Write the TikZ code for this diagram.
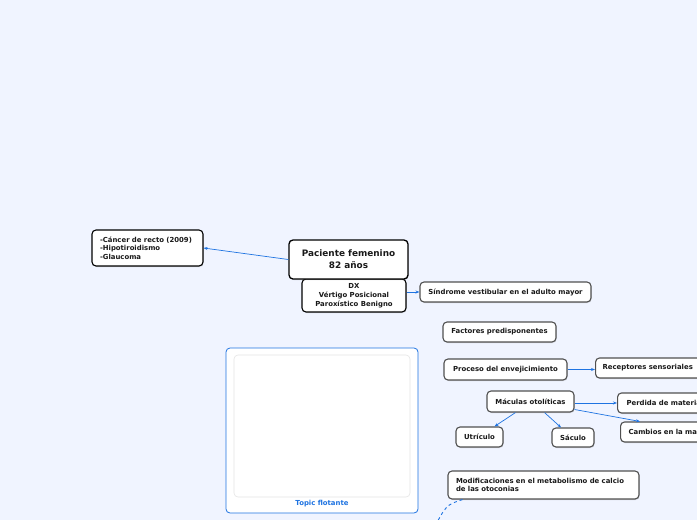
\documentclass[tikz,border=0pt]{standalone}
\usepackage{fontspec}
\setmainfont{DejaVu Sans}
\usetikzlibrary{arrows.meta,shadows}
\definecolor{bgblue}{RGB}{240,244,255}
\definecolor{linkblue}{RGB}{30,115,225}
\definecolor{boxgrey}{RGB}{80,80,80}
\begin{document}
\begin{tikzpicture}[x=1pt,y=-1pt,
  every node/.style={font=\fontsize{6.9}{8.6}\selectfont\bfseries,text=black!90},
  topic/.style={draw=boxgrey,fill=white,line width=1.1pt,rounded corners=4pt,inner sep=0pt,drop shadow={shadow xshift=0.6pt,shadow yshift=-1pt,opacity=0.3}},
  link/.style={-{Stealth[length=4pt,width=3pt]},linkblue,line width=0.7pt}]
  \clip (0,0) rectangle (697,520);
  \fill[bgblue] (0,0) rectangle (697,520);
  % central topic
  \node[topic,draw=black,minimum width=104,minimum height=33,align=center,font=\fontsize{6.9}{9}\selectfont\bfseries] (dx) at (354,295.5) {\\[-4pt]DX\\V\'ertigo Posicional\\Parox\'istico Benigno};
  \node[topic,draw=black,line width=1.3pt,minimum width=119,minimum height=39,align=center,font=\fontsize{8.9}{12}\selectfont\bfseries] (pac) at (348.5,259.5) {Paciente femenino\\82 a\~nos};
  \node[topic,draw=black,minimum width=111,minimum height=36,text width=95,align=left] (hist) at (147.5,248) {-C\'ancer de recto (2009)\\-Hipotiroidismo\\-Glaucoma};
  \draw[link] (pac.west) -- (hist.east);
  % subtopics
  \node[topic,minimum width=171,minimum height=20] (sind) at (505.5,292) {S\'indrome vestibular en el adulto mayor};
  \draw[link] (dx.east |- sind) -- (sind.west);
  \node[topic,minimum width=113,minimum height=20] (fact) at (499.5,332) {Factores predisponentes};
  \node[topic,minimum width=123,minimum height=21] (proc) at (505.5,369.5) {Proceso del envejicimiento};
  \node[topic,anchor=west,minimum width=130,minimum height=20,text width=116,align=left] (recep) at (595,368) {Receptores sensoriales};
  \draw[link] (proc.east) -- (proc.east -| recep.west);
  \node[topic,minimum width=87,minimum height=21] (mac) at (530.5,401.5) {M\'aculas otol\'iticas};
  \node[topic,anchor=west,minimum width=130,minimum height=20,text width=112,align=left] (perd) at (617,403) {Perdida de materia};
  \node[topic,anchor=west,minimum width=130,minimum height=20,text width=114,align=left] (camb) at (620,432) {Cambios en la ma};
  \node[topic,minimum width=47,minimum height=20] (utr) at (479.5,437) {Utr\'iculo};
  \node[topic,minimum width=42,minimum height=19] (sac) at (573,437.5) {S\'aculo};
  \draw[link] (mac.east |- perd) -- (perd.west);
  \draw[link] ([yshift=-8]mac.east) -- ([xshift=20]camb.north west);
  \draw[link] ([xshift=-15]mac.south) -- ([xshift=15]utr.north);
  \draw[link] ([xshift=14]mac.south) -- ([xshift=-12]sac.north);
  \node[topic,minimum width=191,minimum height=28,text width=175,align=left] (mod) at (543.5,485) {Modificaciones en el metabolismo de calcio\\de las otoconias};
  \coordinate (modend) at (432,532);
  \draw[linkblue,dashed,line width=0.9pt] ([xshift=15]mod.south west) .. controls (446,505) .. (modend);
  % floating topic
  \node[draw=linkblue,fill=white,line width=0.8pt,rounded corners=4pt,minimum width=192,minimum height=165,inner sep=0pt] (float) at (322,430.5) {};
  \node[draw=black!10,fill=white,line width=0.6pt,rounded corners=4pt,minimum width=176,minimum height=142,inner sep=0pt] (floatin) at (322,426) {};
  \node[text=linkblue,font=\fontsize{6.9}{8}\selectfont\bfseries] (floatlbl) at (322,504) {Topic flotante};
\end{tikzpicture}
\end{document}
